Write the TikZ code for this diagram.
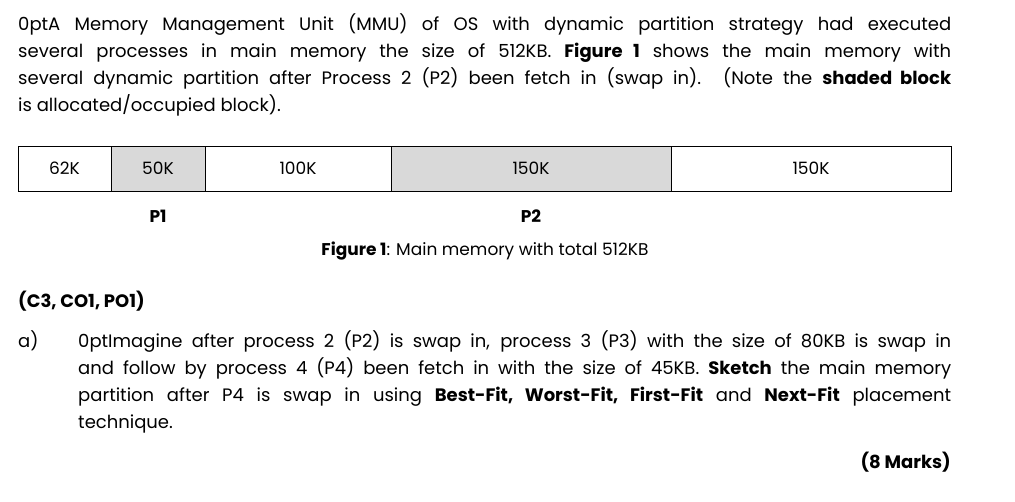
\documentclass[tikz,border=0pt]{standalone}
\usepackage{fontspec}
\setmainfont{Poppins}
\begin{document}
\begin{tikzpicture}[x=1pt,y=-1pt,
  para/.style={anchor=north west,inner sep=0pt,align=justify,font=\fontsize{18}{27}\selectfont\hyphenpenalty=10000\exhyphenpenalty=10000},
  lbl/.style={font=\fontsize{17}{23}\selectfont,inner sep=0pt},
  cell/.style={draw=black,line width=0.8pt}]
\useasboundingbox (0,0) rectangle (1015,501);
\node[para,text width=933pt] (intro) at (18,13) {A Memory Management Unit (MMU) of OS with dynamic partition strategy had executed\linebreak several processes in main memory the size of 512KB. \textbf{Figure 1} shows the main memory with\linebreak several dynamic partition after Process 2 (P2) been fetch in (swap in). (Note the \textbf{shaded block}\linebreak is allocated/occupied block).};
\fill[gray!30] (111,146) rectangle (205,191);
\fill[gray!30] (391,146) rectangle (671,191);
\draw[cell] (18,146) rectangle (951,191);
\foreach \x in {111,205,391,671} \draw[cell] (\x,146) -- (\x,191);
\node[lbl] (c1) at (64.5,168) {62K};
\node[lbl] (c2) at (158,168) {50K};
\node[lbl] (c3) at (298,168) {100K};
\node[lbl] (c4) at (531,168) {150K};
\node[lbl] (c5) at (811,168) {150K};
\node[lbl,font=\fontsize{17}{23}\selectfont\bfseries] (p1) at (158,216) {P1};
\node[lbl,font=\fontsize{17}{23}\selectfont\bfseries] (p2) at (531,216) {P2};
\node[lbl] (cap) at (485,251) {\textbf{Figure 1}: Main memory with total 512KB};
\node[lbl,anchor=west,font=\fontsize{18}{24}\selectfont\bfseries] (co) at (18,301) {(C3, CO1, PO1)};
\node[lbl,anchor=north west,font=\fontsize{18}{24}\selectfont] (a) at (18,330) {a)};
\node[para,text width=873pt] (q) at (78,330) {Imagine after process 2 (P2) is swap in, process 3 (P3) with the size of 80KB is swap in\linebreak and follow by process 4 (P4) been fetch in with the size of 45KB. \textbf{Sketch} the main memory\linebreak partition after P4 is swap in using \textbf{Best-Fit, Worst-Fit, First-Fit} and \textbf{Next-Fit} placement\linebreak technique.};
\node[lbl,anchor=east,font=\fontsize{18}{24}\selectfont\bfseries] (m) at (951,462) {(8 Marks)};
\end{tikzpicture}
\end{document}
